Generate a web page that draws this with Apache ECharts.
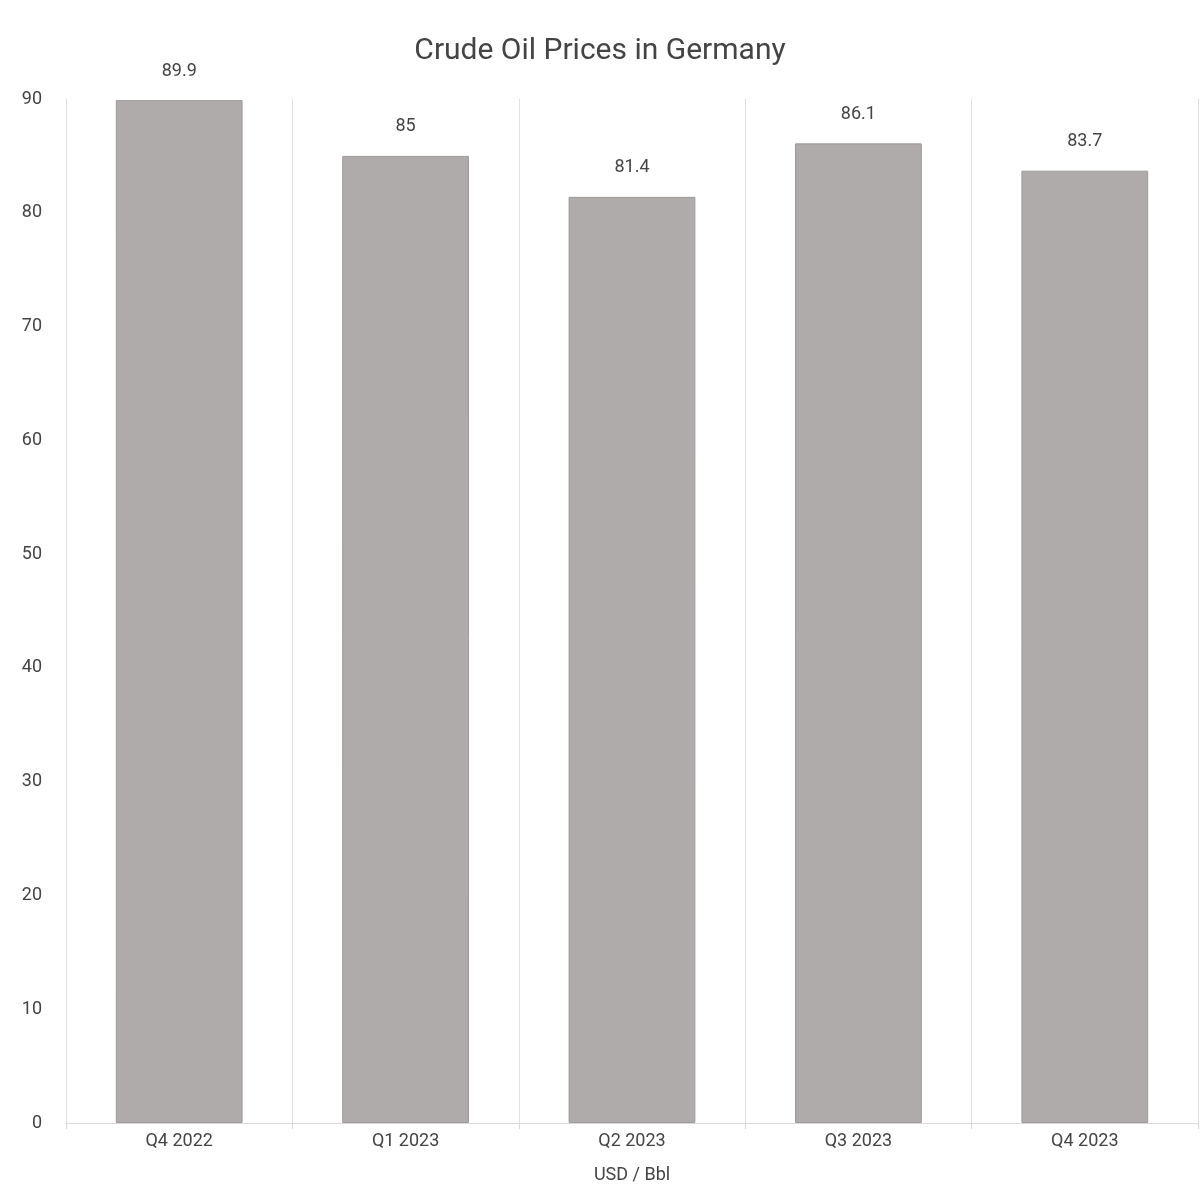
<!DOCTYPE html>
<html>
<head>
<meta charset="utf-8">
<script src="https://cdn.jsdelivr.net/npm/echarts@6/dist/echarts.min.js"></script>
<style>
  html, body { margin: 0; padding: 0; background: #fff; }
  #chart { width: 1200px; height: 1200px; }
</style>
</head>
<body>
<div id="chart"></div>
<script>
// quarters and prices (USD / Bbl)
const quarters = ["Q4 2022", "Q1 2023", "Q2 2023", "Q3 2023", "Q4 2023"];
const prices = [89.9, 85, 81.4, 86.1, 83.7];

let chart = echarts.init(document.getElementById("chart"));
const option = {
  animation: false,
  textStyle: { fontFamily: "Roboto" },
  title: {
    text: "Crude Oil Prices in Germany",
    left: "center",
    top: 31,
    textStyle: { fontSize: 30, fontWeight: "normal", color: "#444", fontFamily: "Roboto" }
  },
  grid: { left: 66, right: 2, top: 99, bottom: 77 },
  xAxis: {
    type: "category",
    data: quarters,
    name: "USD / Bbl",
    nameLocation: "middle",
    nameGap: 43,
    nameTextStyle: { fontSize: 18, color: "#444" },
    axisLine: { lineStyle: { color: "#d9d9d9" } },
    axisTick: { show: true, length: 6, lineStyle: { color: "#d9d9d9" } },
    axisLabel: { fontSize: 18, color: "#444", margin: 9 },
    splitLine: { show: true, lineStyle: { color: "#e0e0e0" } }
  },
  yAxis: {
    type: "value",
    min: 0,
    max: 90,
    interval: 10,
    axisLine: { show: false },
    axisTick: { show: false },
    axisLabel: { fontSize: 18, color: "#444", margin: 24 },
    splitLine: { show: false }
  },
  series: [
    {
      type: "bar",
      data: prices,
      barWidth: "56%",
      itemStyle: { color: "#afabaa", borderColor: "#9e9a99", borderWidth: 1 },
      label: {
        show: true,
        position: "top",
        distance: 20,
        fontSize: 18,
        color: "#444"
      }
    }
  ]
};
chart.setOption(option);
</script>
</body>
</html>
